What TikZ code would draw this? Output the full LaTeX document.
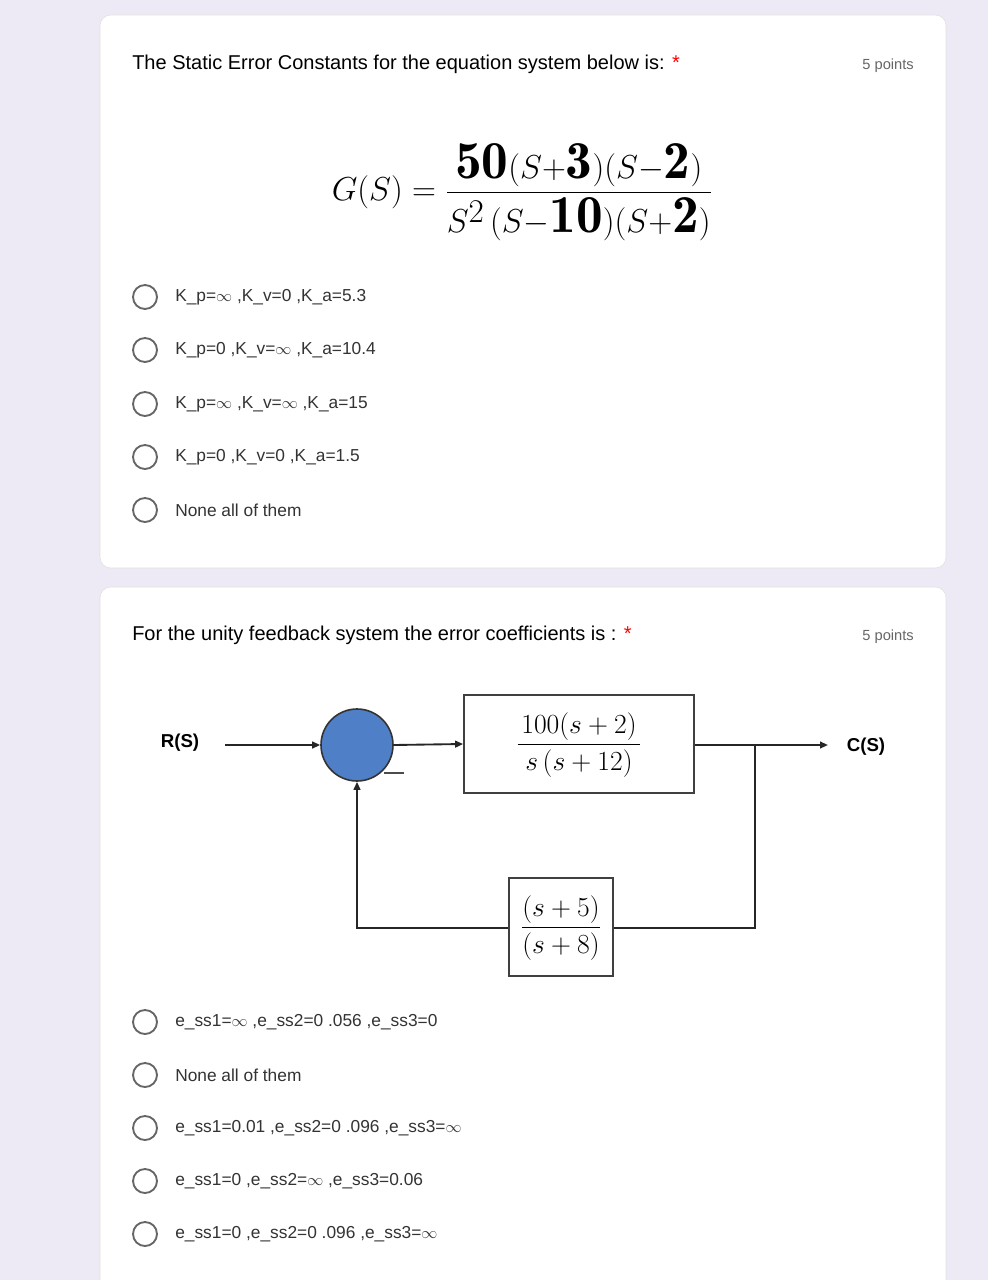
\documentclass[tikz,border=0pt]{standalone}
\usepackage{amsmath}
\usepackage{fontspec}
\setsansfont{Liberation Sans}
\usetikzlibrary{arrows.meta}
\definecolor{bgc}{HTML}{EDE9F5}
\definecolor{ballc}{HTML}{4F7FC6}
\tikzset{
 card/.style={fill=white,draw=black!12,rounded corners=8pt},
 qtext/.style={anchor=west,font=\sffamily\fontsize{15}{17}\selectfont,inner sep=0},
 pts/.style={anchor=east,font=\sffamily\fontsize{11}{13}\selectfont,text=black!60,inner sep=0},
 opt/.style={anchor=west,font=\sffamily\fontsize{13}{15}\selectfont,text=black!80,inner sep=0},
 radio/.style={draw=black!60,line width=1.4pt,circle,minimum size=18pt,inner sep=0},
 blk/.style={draw=black!75,line width=1.3pt,inner sep=0},
 wire/.style={line width=1.4pt,black!85},
 arr/.style={wire,-{Triangle[length=6pt,width=5pt]}},
 lbl/.style={font=\sffamily\bfseries\fontsize{14}{16}\selectfont,inner sep=0}
}
\begin{document}
\begin{tikzpicture}[x=0.75pt,y=-0.75pt]
\path[fill=bgc] (0,0) rectangle (988,1280);
\useasboundingbox (0,0) rectangle (988,1280);
\path[card] (100,15) rectangle (946,568);
\path[card] (100,587) rectangle (946,1300);
% Q1
\node[qtext] (q1) at (132,64) {The Static Error Constants for the equation system below is: \textcolor{red}{*}};
\node[pts] (p1) at (914,66) {5 points};
\node (eq) at (522,192) {\fontsize{40}{44}\selectfont$G(S)=\dfrac{\mathbf{50(}S\mathbf{+3)(}S\mathbf{-2)}}{S^2\,\mathbf{(}S\mathbf{-10)(}S\mathbf{+2)}}$};
\foreach \y/\t [count=\i] in {297/{K\_p=$\infty$ ,K\_v=0 ,K\_a=5.3},350/{K\_p=0 ,K\_v=$\infty$ ,K\_a=10.4},404/{K\_p=$\infty$ ,K\_v=$\infty$ ,K\_a=15},457/{K\_p=0 ,K\_v=0 ,K\_a=1.5},510/{None all of them}}{
 \node[radio] (ra\i) at (145,\y) {};
 \node[opt] (oa\i) at (175,\y) {\t};
}
% Q2
\node[qtext] (q2) at (132,635) {For the unity feedback system the error coefficients is : \textcolor{red}{*}};
\node[pts] (p2) at (914,637) {5 points};
\node[lbl] (R) at (180,743) {R(S)};
\node[lbl] (C) at (866,747) {C(S)};
\coordinate (rin) at (225,745);
\node[circle,draw=black!80,line width=1.2pt,fill=ballc,minimum size=54pt,inner sep=0] (sum) at (357,745) {};
\node[blk,minimum width=230*0.75pt,minimum height=98*0.75pt] (g) at (579,744) {};
\node (gt) at (579,745) {\fontsize{20}{22}\selectfont$\dfrac{100(s+2)}{\;s\,(s+12)\;}$};
\node[blk,minimum width=104*0.75pt,minimum height=98*0.75pt] (h) at (561,927) {};
\node (ht) at (561,928) {\fontsize{20}{22}\selectfont$\dfrac{(s+5)}{(s+8)}$};
\coordinate (out) at (828,745);
\coordinate (tap) at (755,745);
\draw[arr] (rin) -- (sum.west);
\draw[arr] (sum.east) -- (g.west);
\draw[arr] (g.east |- out) -- (out);
\draw[wire] (tap) |- (h.east |- 0,928);
\draw[arr] (h.west |- 0,928) -| (sum.south);
\draw[line width=1pt,black!70] (384,773) -- (404,773);
\foreach \y/\t [count=\i] in {1022/{e\_ss1=$\infty$ ,e\_ss2=0 .056 ,e\_ss3=0},1075/{None all of them},1128/{e\_ss1=0.01 ,e\_ss2=0 .096 ,e\_ss3=$\infty$},1181/{e\_ss1=0 ,e\_ss2=$\infty$ ,e\_ss3=0.06},1234/{e\_ss1=0 ,e\_ss2=0 .096 ,e\_ss3=$\infty$}}{
 \node[radio] (rb\i) at (145,\y) {};
 \node[opt] (ob\i) at (175,\y) {\t};
}
\end{tikzpicture}
\end{document}
